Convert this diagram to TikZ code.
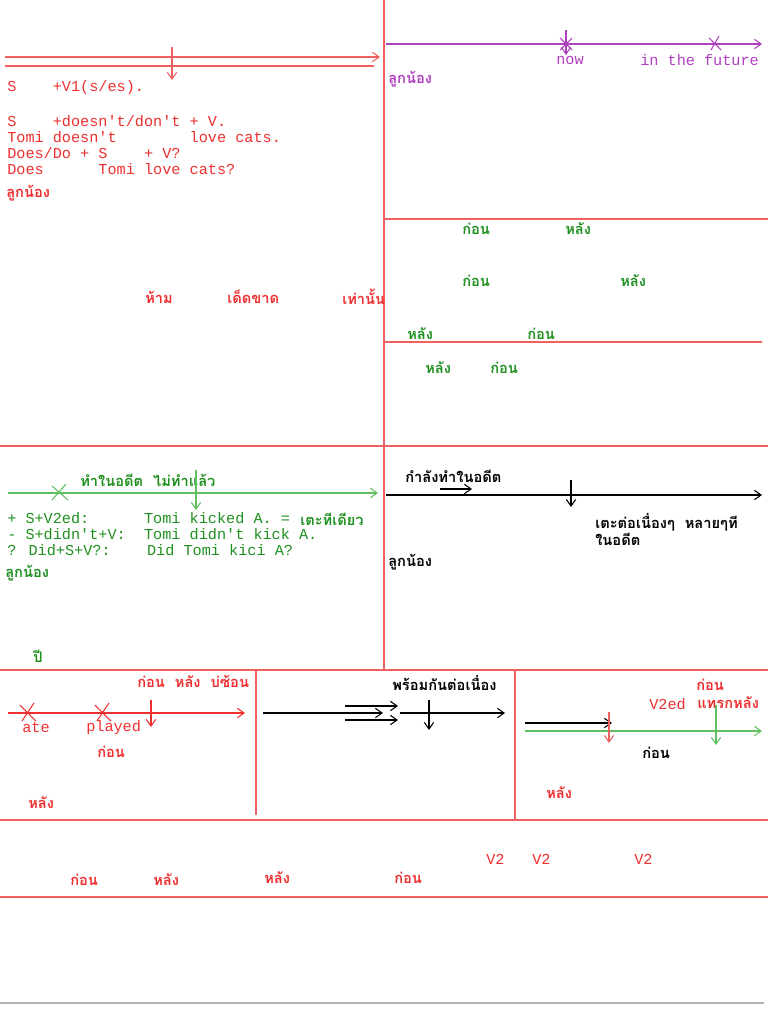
\documentclass[tikz,border=0pt]{standalone}
\usepackage{fontspec}
\setmainfont{Loma}[Script=Thai]
\newfontfamily\mono{Liberation Mono}
\usetikzlibrary{arrows.meta}
\definecolor{rd}{HTML}{F03030}
\definecolor{rl}{HTML}{F06060}
\definecolor{gr}{HTML}{209020}
\definecolor{gl}{HTML}{60C060}
\definecolor{pu}{HTML}{B040C0}
\tikzset{
 ln/.style={line width=0.8pt},
 ar/.style={ln,-{Straight Barb[length=5pt,width=7pt]}},
 tx/.style={anchor=west,inner sep=0,font=\bfseries\fontsize{11}{12}\selectfont},
 mt/.style={anchor=west,inner sep=0,font=\mono\fontsize{11.4}{12}\selectfont,align=left},
}
\begin{document}
\begin{tikzpicture}[x=0.75pt,y=-0.75pt]
\useasboundingbox (0,0) rectangle (768,1024);
\fill[white] (0,0) rectangle (768,1024);
\coordinate (v1) at (384,0); \coordinate (v2) at (384,670);
\draw[ln,rl] (v1) -- (v2);
\foreach \y in {446,670,820,897} \draw[ln,rl] (0,\y) -- (768,\y);
\draw[ln,gray!60] (0,1003) -- (764,1003);
\draw[ln,rl] (384,219) -- (768,219);
\draw[ln,rl] (384,342) -- (762,342);
\draw[ln,rl] (256,670) -- (256,815);
\draw[ln,rl] (515,670) -- (515,820);
% top-left
\draw[ar,rl] (5,57) -- (380,57);
\draw[ln,rl] (5,66) -- (374,66);
\draw[ar,rl] (172,47) -- (172,80);
\node[mt,text=rd] (t1) at (7,88) {S\ \ \ \ +V1(s/es).};
\node[mt,text=rd,anchor=north west] (t2) at (7,115) {S\ \ \ \ +doesn't/don't + V.\\Tomi doesn't\ \ \ \ \ \ \ \ love cats.\\Does/Do + S\ \ \ \ + V?\\Does\ \ \ \ \ \ Tomi love cats?};
\node[tx,text=rd] (t3) at (6,193) {ลูกน้อง};
\node[tx,text=rd] (t4) at (145,297) {ห้าม};
\node[tx,text=rd] (t5) at (227,297) {เด็ดขาด};
\node[tx,text=rd] (t6) at (342,297) {เท่านั้น};
% top-right
\draw[ar,pu] (386,44) -- (762,44);
\draw[ar,pu] (566,30) -- (566,55);
\draw[ln,pu] (560,38) -- (572,50) (560,50) -- (572,38);
\draw[ln,pu] (709,38) -- (721,50) (711,50) -- (719,36);
\node[mt,text=pu] (n1) at (556,60) {now};
\node[mt,text=pu] (n2) at (640,60) {in the future};
\node[tx,text=pu] (n3) at (388,79) {ลูกน้อง};
\foreach \x/\y/\t in {462/229/ก่อน,565/229/หลัง,462/281/ก่อน,620/281/หลัง,407/334/หลัง,527/334/ก่อน,425/368/หลัง,490/368/ก่อน}
  \node[tx,text=gr] at (\x,\y) {\t};
% middle-left green
\node[tx,text=gr] (g1) at (80,480) {ทำในอดีต\ \ ไม่ทำแล้ว};
\draw[ar,gl] (8,493) -- (378,493);
\draw[ln,gl] (52,486) -- (68,500) (52,500) -- (66,484);
\draw[ar,gl] (196,470) -- (196,510);
\node[mt,text=gr,anchor=north west] (g2) at (7,512) {+ S+V2ed:\ \ \ \ \ \ Tomi kicked A. =\\- S+didn't+V:\ \ Tomi didn't kick A.\\? Did+S+V?:\ \ \ \ Did Tomi kici A?};
\node[tx,text=gr] at (300,519) {เตะทีเดียว};
\node[tx,text=gr] (g3) at (5,573) {ลูกน้อง};
\node[tx,text=gr] (g4) at (33,656) {ปี};
% middle-right black
\node[tx] (b1) at (405,476) {กำลังทำในอดีต};
\draw[ar] (386,495) -- (762,495);
\draw[ar] (440,489) -- (472,489);
\draw[ar] (571,480) -- (571,507);
\node[tx,align=left,anchor=north west,font=\bfseries\fontsize{11}{13}\selectfont] (b2) at (595,513) {เตะต่อเนื่องๆ\ \ หลายๆที\\ในอดีต};
\node[tx] (b3) at (388,562) {ลูกน้อง};
% bottom-left
\node[tx,text=rd] at (137,681) {ก่อน\ \ หลัง\ \ บ่ซ้อน};
\draw[ar,rd] (8,713) -- (245,713);
\draw[ln,rd] (20,705) -- (36,721) (22,721) -- (34,703);
\draw[ln,rd] (95,705) -- (111,721) (97,721) -- (109,703);
\draw[ar,rd] (151,700) -- (151,727);
\node[mt,text=rd] at (22,728) {ate};
\node[mt,text=rd] at (86,728) {played};
\node[tx,text=rd] at (97,752) {ก่อน};
\node[tx,text=rd] at (28,803) {หลัง};
% bottom-middle
\node[tx] at (392,683) {พร้อมกันต่อเนื่อง};
\draw[ar] (263,713) -- (383,713);
\draw[ar] (345,706) -- (398,706);
\draw[ar] (345,720) -- (398,720);
\draw[ar] (400,713) -- (505,713);
\draw[ar] (429,700) -- (429,730);
% bottom-right
\node[tx,text=rd] at (696,685) {ก่อน};
\node[mt,text=rd] at (649,704) {V2ed};
\node[tx,text=rd] at (697,703) {แทรกหลัง};
\draw[ar] (525,723) -- (612,723);
\draw[ar,gl] (525,731) -- (762,731);
\draw[ar,rl] (609,712) -- (609,743);
\draw[ar,gl] (716,705) -- (716,745);
\node[tx] at (642,753) {ก่อน};
\node[tx,text=rd] at (546,793) {หลัง};
% bottom strip
\foreach \x/\t in {486/V2,532/V2,634/V2} \node[mt,text=rd] at (\x,859) {\t};
\foreach \x/\y/\t in {70/880/ก่อน,153/880/หลัง,264/878/หลัง,394/878/ก่อน}
  \node[tx,text=rd] at (\x,\y) {\t};
\end{tikzpicture}
\end{document}
